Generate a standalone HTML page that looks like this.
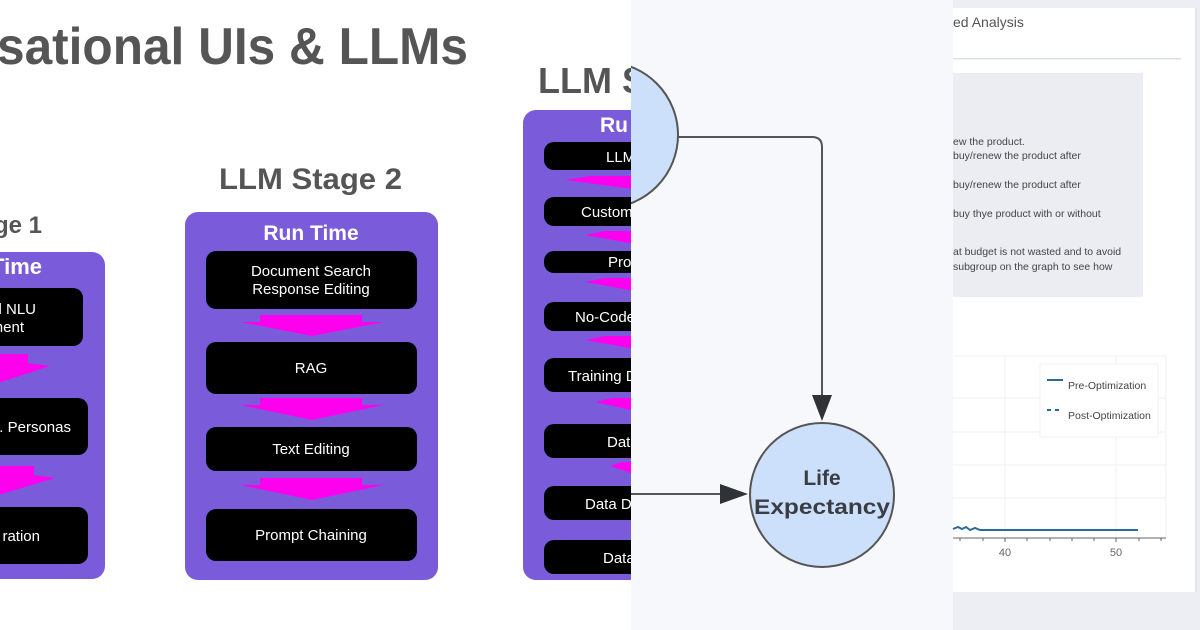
<!DOCTYPE html>
<html><head><meta charset="utf-8"><style>
html,body{margin:0;padding:0;width:1200px;height:630px;overflow:hidden;background:#fff}
svg text{font-family:"Liberation Sans",sans-serif}
</style></head><body>
<svg width="1200" height="630" viewBox="0 0 1200 630" xmlns="http://www.w3.org/2000/svg">
<defs><clipPath id="p1"><rect x="0" y="0" width="631" height="630"/></clipPath><clipPath id="p2"><rect x="631" y="0" width="322" height="630"/></clipPath></defs>
<rect width="1200" height="630" fill="#fff"/>
<g clip-path="url(#p1)">
<text x="-3" y="64" font-size="52" font-weight="bold" fill="#555" textLength="471" lengthAdjust="spacingAndGlyphs">sational UIs &amp; LLMs</text>
<text x="42" y="233" font-size="24" font-weight="bold" fill="#555" text-anchor="end">ge 1</text>
<text x="219" y="189" font-size="30" font-weight="bold" fill="#555" textLength="183" lengthAdjust="spacingAndGlyphs">LLM Stage 2</text>
<text x="538" y="93" font-size="36" font-weight="bold" fill="#555">LLM S</text>
<!-- stage1 -->
<rect x="-40" y="252" width="145" height="327" rx="13" fill="#7a5cdb"/>
<text x="42" y="274" font-size="22" font-weight="bold" fill="#fff" text-anchor="end">Time</text>
<rect x="-40" y="288" width="123" height="58" rx="10" fill="#000"/>
<text x="36" y="314" font-size="15" fill="#fff" text-anchor="end">l NLU</text>
<text x="24" y="332" font-size="15" fill="#fff" text-anchor="end">ment</text>
<polygon points="-20,354 28,354 28,363 50,366 -5,384" fill="#ff00ee"/>
<rect x="-40" y="398" width="128" height="57" rx="10" fill="#000"/>
<text x="71" y="432" font-size="15" fill="#fff" text-anchor="end">. Personas</text>
<polygon points="-20,466 34,466 34,475 55,478 -5,496" fill="#ff00ee"/>
<rect x="-40" y="507" width="128" height="57" rx="10" fill="#000"/>
<text x="40" y="541" font-size="15" fill="#fff" text-anchor="end">ration</text>
<!-- stage2 -->
<rect x="185" y="212" width="253" height="368" rx="13" fill="#7a5cdb"/>
<text x="311" y="240" font-size="21" font-weight="bold" fill="#fff" text-anchor="middle">Run Time</text>
<rect x="206" y="251" width="211" height="58" rx="10" fill="#000"/>
<text x="311" y="276" font-size="15" fill="#fff" text-anchor="middle">Document Search</text>
<text x="311" y="294" font-size="15" fill="#fff" text-anchor="middle">Response Editing</text>
<polygon points="260,315 362,315 362,322 384,322 312,336 240,322 260,322" fill="#ff00ee"/>
<rect x="206" y="342" width="211" height="52" rx="10" fill="#000"/>
<text x="311" y="373" font-size="15" fill="#fff" text-anchor="middle">RAG</text>
<polygon points="260,398 362,398 362,405 384,405 312,420 240,405 260,405" fill="#ff00ee"/>
<rect x="206" y="427" width="211" height="44" rx="10" fill="#000"/>
<text x="311" y="454" font-size="15" fill="#fff" text-anchor="middle">Text Editing</text>
<polygon points="260,478 362,478 362,485 384,485 312,500 240,485 260,485" fill="#ff00ee"/>
<rect x="206" y="509" width="211" height="52" rx="10" fill="#000"/>
<text x="311" y="540" font-size="15" fill="#fff" text-anchor="middle">Prompt Chaining</text>
<!-- stage3 -->
<rect x="523" y="110" width="200" height="470" rx="13" fill="#7a5cdb"/>
<text x="600" y="132" font-size="21" font-weight="bold" fill="#fff">Ru</text>
<g fill="#000">
<rect x="544" y="142" width="160" height="28" rx="10"/>
<rect x="544" y="197" width="160" height="29" rx="10"/>
<rect x="544" y="251" width="160" height="22" rx="10"/>
<rect x="544" y="302" width="160" height="29" rx="10"/>
<rect x="544" y="358" width="160" height="34" rx="10"/>
<rect x="544" y="424" width="160" height="34" rx="10"/>
<rect x="544" y="486" width="160" height="34" rx="10"/>
<rect x="544" y="540" width="160" height="34" rx="10"/>
</g>
<g fill="#ff00ee">
<polygon points="565,180 590,176 640,176 640,190"/>
<polygon points="585,235 605,231 640,231 640,245"/>
<polygon points="585,282 605,278 640,278 640,292"/>
<polygon points="585,340 605,336 640,336 640,350"/>
<polygon points="595,402 612,398 640,398 640,412"/>
<polygon points="610,466 622,462 640,462 640,476"/>
</g>
<g fill="#fff" font-size="15">
<text x="606" y="162">LLM</text>
<text x="581" y="217">Custom</text>
<text x="608" y="267">Pro</text>
<text x="575" y="322">No-Code</text>
<text x="568" y="381">Training D</text>
<text x="607" y="447">Dat</text>
<text x="585" y="509">Data D</text>
<text x="603" y="563">Data</text>
</g>
</g>
<!-- panel 2 -->
<g clip-path="url(#p2)">
<rect x="631" y="0" width="322" height="630" fill="#f7f8fc"/>
<circle cx="605" cy="135" r="73" fill="#cce0fb" stroke="#555" stroke-width="2"/>
<path d="M678,137 H812 Q822,137 822,147 V400" fill="none" stroke="#555" stroke-width="2"/>
<polygon points="812,395 832,395 822,421" fill="#2f3338"/>
<circle cx="822" cy="495" r="72" fill="#cce0fb" stroke="#555" stroke-width="2"/>
<path d="M631,494 H722" stroke="#555" stroke-width="2"/>
<polygon points="720,484 748,494 720,504" fill="#2f3338"/>
<text x="822" y="485" font-size="21" font-weight="bold" fill="#3a3d42" text-anchor="middle">Life</text>
<text x="822" y="514" font-size="21" font-weight="bold" fill="#3a3d42" text-anchor="middle" textLength="136" lengthAdjust="spacingAndGlyphs">Expectancy</text>
</g>
<!-- panel 3 -->
<rect x="953" y="0" width="247" height="630" fill="#eceef4"/>
<rect x="953" y="8" width="242" height="584" fill="#fff"/>
<text x="953" y="27" font-size="14" fill="#555">ed Analysis</text>
<rect x="953" y="58" width="228" height="1.5" fill="#dde0e6"/>
<rect x="953" y="73" width="190" height="224" fill="#ecedf3"/>
<g font-size="10.5" fill="#444">
<text x="953" y="145">ew the product.</text>
<text x="953" y="159">buy/renew the product after</text>
<text x="953" y="188">buy/renew the product after</text>
<text x="953" y="217">buy thye product with or without</text>
<text x="953" y="255">at budget is not wasted and to avoid</text>
<text x="953" y="270">subgroup on the graph to see how</text>
</g>
<g stroke="#eef0f3" stroke-width="1">
<line x1="953" y1="356" x2="1166" y2="356"/><line x1="953" y1="398" x2="1166" y2="398"/>
<line x1="953" y1="432" x2="1166" y2="432"/><line x1="953" y1="465" x2="1166" y2="465"/>
<line x1="953" y1="498" x2="1166" y2="498"/><line x1="1005" y1="356" x2="1005" y2="538"/>
<line x1="1116" y1="356" x2="1116" y2="538"/><line x1="1166" y1="356" x2="1166" y2="538"/>
</g>
<rect x="1040" y="364" width="118" height="73" fill="#fff" stroke="#eef0f3"/>
<line x1="1047" y1="380" x2="1063" y2="380" stroke="#2c6a9a" stroke-width="2"/>
<line x1="1047" y1="410" x2="1063" y2="410" stroke="#2c6a9a" stroke-width="2" stroke-dasharray="4,4"/>
<text x="1068" y="389" font-size="10.5" fill="#444">Pre-Optimization</text>
<text x="1068" y="419" font-size="10.5" fill="#444">Post-Optimization</text>
<path d="M953,529 L958,527 L962,529 L966,527 L970,530 L975,528 L980,530 L1000,530 L1138,530" fill="none" stroke="#2c6a9a" stroke-width="2"/>
<line x1="953" y1="538" x2="1166" y2="538" stroke="#666"/>
<g stroke="#666"><line x1="960" y1="538" x2="960" y2="541"/><line x1="983" y1="538" x2="983" y2="541"/><line x1="1005" y1="538" x2="1005" y2="542"/><line x1="1027" y1="538" x2="1027" y2="541"/><line x1="1050" y1="538" x2="1050" y2="541"/><line x1="1072" y1="538" x2="1072" y2="541"/><line x1="1094" y1="538" x2="1094" y2="541"/><line x1="1116" y1="538" x2="1116" y2="542"/><line x1="1139" y1="538" x2="1139" y2="541"/><line x1="1161" y1="538" x2="1161" y2="541"/></g>
<text x="1005" y="556" font-size="11" fill="#666" text-anchor="middle">40</text>
<text x="1116" y="556" font-size="11" fill="#666" text-anchor="middle">50</text>
<rect x="1195" y="8" width="2" height="584" fill="#e3e5ec"/>
</svg>
</body></html>
